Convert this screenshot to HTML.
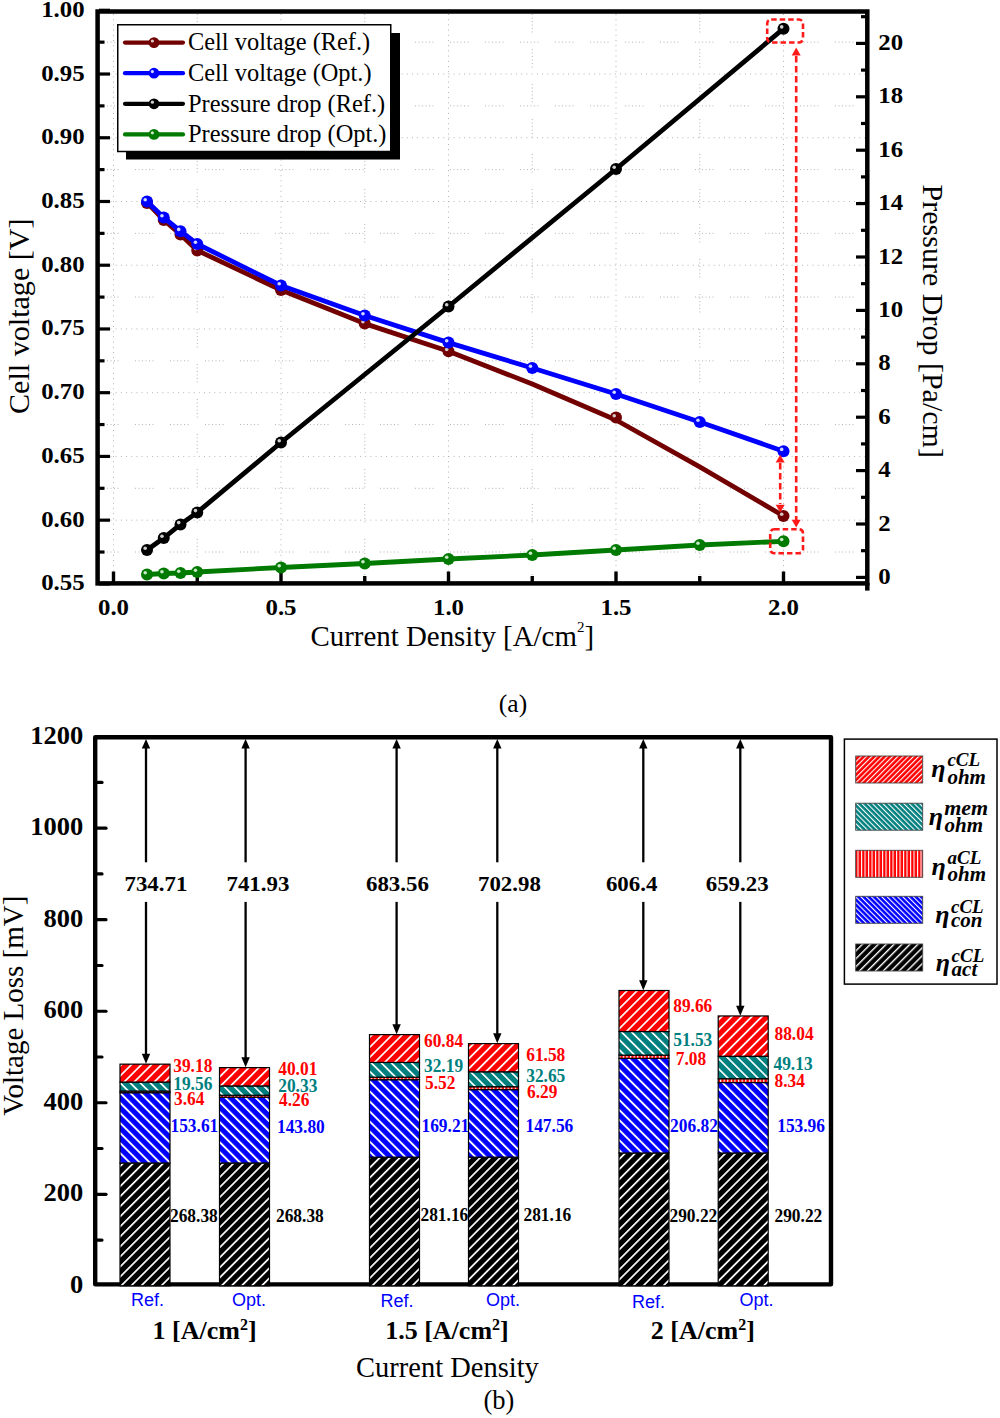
<!DOCTYPE html><html><head><meta charset="utf-8"><style>html,body{margin:0;padding:0;background:#fff;}svg{display:block}</style></head><body>
<svg width="1000" height="1418" viewBox="0 0 1000 1418">
<defs>
<pattern id="hC" patternUnits="userSpaceOnUse" width="7.1" height="7.1" patternTransform="rotate(45)"><rect width="7.1" height="7.1" fill="#ff0000"/><rect x="0" y="0" width="1.7" height="7.1" fill="#fff"/></pattern>
<pattern id="hM" patternUnits="userSpaceOnUse" width="7.1" height="7.1" patternTransform="rotate(-45)"><rect width="7.1" height="7.1" fill="#007f7f"/><rect x="0" y="0" width="1.7" height="7.1" fill="#fff"/></pattern>
<pattern id="hB" patternUnits="userSpaceOnUse" width="7.1" height="7.1" patternTransform="rotate(-45)"><rect width="7.1" height="7.1" fill="#0000ff"/><rect x="0" y="0" width="1.9" height="7.1" fill="#fff"/></pattern>
<pattern id="hK" patternUnits="userSpaceOnUse" width="7.1" height="7.1" patternTransform="rotate(45)"><rect width="7.1" height="7.1" fill="#000000"/><rect x="0" y="0" width="1.7" height="7.1" fill="#fff"/></pattern>
<pattern id="hA" patternUnits="userSpaceOnUse" width="3.6" height="10"><rect width="3.6" height="10" fill="#ff0000"/><rect x="0" width="1.2" height="10" fill="#fff"/></pattern>
<pattern id="lC" patternUnits="userSpaceOnUse" width="3.7" height="3.7" patternTransform="rotate(45)"><rect width="3.7" height="3.7" fill="#ff0000"/><rect x="0" y="0" width="1.1" height="3.7" fill="#fff"/></pattern>
<pattern id="lM" patternUnits="userSpaceOnUse" width="3.7" height="3.7" patternTransform="rotate(-45)"><rect width="3.7" height="3.7" fill="#007f7f"/><rect x="0" y="0" width="1.1" height="3.7" fill="#fff"/></pattern>
<pattern id="lB" patternUnits="userSpaceOnUse" width="3.7" height="3.7" patternTransform="rotate(-45)"><rect width="3.7" height="3.7" fill="#0000ff"/><rect x="0" y="0" width="1.1" height="3.7" fill="#fff"/></pattern>
<pattern id="lK" patternUnits="userSpaceOnUse" width="5.6" height="5.6" patternTransform="rotate(45)"><rect width="5.6" height="5.6" fill="#000000"/><rect x="0" y="0" width="1.4" height="5.6" fill="#fff"/></pattern>
<pattern id="lA" patternUnits="userSpaceOnUse" width="3.5" height="10"><rect width="3.5" height="10" fill="#ff0000"/><rect x="0" width="1.1" height="10" fill="#fff"/></pattern>
</defs>
<line x1="113.50" y1="14" x2="113.50" y2="580" stroke="#b4b4b4" stroke-width="1" stroke-dasharray="1 4.2"/><line x1="197.25" y1="14" x2="197.25" y2="580" stroke="#b4b4b4" stroke-width="1" stroke-dasharray="1 2.5 1 2.5 1 2.5 1 2.5 1 2.5 1 16.5"/><line x1="281.00" y1="14" x2="281.00" y2="580" stroke="#b4b4b4" stroke-width="1" stroke-dasharray="1 4.2"/><line x1="364.75" y1="14" x2="364.75" y2="580" stroke="#b4b4b4" stroke-width="1" stroke-dasharray="1 2.5 1 2.5 1 2.5 1 2.5 1 2.5 1 16.5"/><line x1="448.50" y1="14" x2="448.50" y2="580" stroke="#b4b4b4" stroke-width="1" stroke-dasharray="1 4.2"/><line x1="532.25" y1="14" x2="532.25" y2="580" stroke="#b4b4b4" stroke-width="1" stroke-dasharray="1 2.5 1 2.5 1 2.5 1 2.5 1 2.5 1 16.5"/><line x1="616.00" y1="14" x2="616.00" y2="580" stroke="#b4b4b4" stroke-width="1" stroke-dasharray="1 4.2"/><line x1="699.75" y1="14" x2="699.75" y2="580" stroke="#b4b4b4" stroke-width="1" stroke-dasharray="1 2.5 1 2.5 1 2.5 1 2.5 1 2.5 1 16.5"/><line x1="783.50" y1="14" x2="783.50" y2="580" stroke="#b4b4b4" stroke-width="1" stroke-dasharray="1 4.2"/><line x1="100" y1="552.03" x2="865" y2="552.03" stroke="#b4b4b4" stroke-width="1" stroke-dasharray="1 2.5 1 2.5 1 2.5 1 2.5 1 2.5 1 16.5"/><line x1="100" y1="520.16" x2="865" y2="520.16" stroke="#b4b4b4" stroke-width="1" stroke-dasharray="1 4.2"/><line x1="100" y1="488.30" x2="865" y2="488.30" stroke="#b4b4b4" stroke-width="1" stroke-dasharray="1 2.5 1 2.5 1 2.5 1 2.5 1 2.5 1 16.5"/><line x1="100" y1="456.43" x2="865" y2="456.43" stroke="#b4b4b4" stroke-width="1" stroke-dasharray="1 4.2"/><line x1="100" y1="424.56" x2="865" y2="424.56" stroke="#b4b4b4" stroke-width="1" stroke-dasharray="1 2.5 1 2.5 1 2.5 1 2.5 1 2.5 1 16.5"/><line x1="100" y1="392.69" x2="865" y2="392.69" stroke="#b4b4b4" stroke-width="1" stroke-dasharray="1 4.2"/><line x1="100" y1="360.83" x2="865" y2="360.83" stroke="#b4b4b4" stroke-width="1" stroke-dasharray="1 2.5 1 2.5 1 2.5 1 2.5 1 2.5 1 16.5"/><line x1="100" y1="328.96" x2="865" y2="328.96" stroke="#b4b4b4" stroke-width="1" stroke-dasharray="1 4.2"/><line x1="100" y1="297.09" x2="865" y2="297.09" stroke="#b4b4b4" stroke-width="1" stroke-dasharray="1 2.5 1 2.5 1 2.5 1 2.5 1 2.5 1 16.5"/><line x1="100" y1="265.22" x2="865" y2="265.22" stroke="#b4b4b4" stroke-width="1" stroke-dasharray="1 4.2"/><line x1="100" y1="233.36" x2="865" y2="233.36" stroke="#b4b4b4" stroke-width="1" stroke-dasharray="1 2.5 1 2.5 1 2.5 1 2.5 1 2.5 1 16.5"/><line x1="100" y1="201.49" x2="865" y2="201.49" stroke="#b4b4b4" stroke-width="1" stroke-dasharray="1 4.2"/><line x1="100" y1="169.62" x2="865" y2="169.62" stroke="#b4b4b4" stroke-width="1" stroke-dasharray="1 2.5 1 2.5 1 2.5 1 2.5 1 2.5 1 16.5"/><line x1="100" y1="137.75" x2="865" y2="137.75" stroke="#b4b4b4" stroke-width="1" stroke-dasharray="1 4.2"/><line x1="100" y1="105.89" x2="865" y2="105.89" stroke="#b4b4b4" stroke-width="1" stroke-dasharray="1 2.5 1 2.5 1 2.5 1 2.5 1 2.5 1 16.5"/><line x1="100" y1="74.02" x2="865" y2="74.02" stroke="#b4b4b4" stroke-width="1" stroke-dasharray="1 4.2"/><line x1="100" y1="42.15" x2="865" y2="42.15" stroke="#b4b4b4" stroke-width="1" stroke-dasharray="1 2.5 1 2.5 1 2.5 1 2.5 1 2.5 1 16.5"/>
<rect x="97.6" y="11.5" width="769.7" height="571.9" fill="none" stroke="#000" stroke-width="4.5"/>
<line x1="867.3" y1="583" x2="867.3" y2="590.6" stroke="#000" stroke-width="4.5"/>
<line x1="99" y1="583.90" x2="110" y2="583.90" stroke="#000" stroke-width="3.2"/><line x1="99" y1="552.03" x2="104.5" y2="552.03" stroke="#000" stroke-width="3.2"/><line x1="99" y1="520.16" x2="110" y2="520.16" stroke="#000" stroke-width="3.2"/><line x1="99" y1="488.30" x2="104.5" y2="488.30" stroke="#000" stroke-width="3.2"/><line x1="99" y1="456.43" x2="110" y2="456.43" stroke="#000" stroke-width="3.2"/><line x1="99" y1="424.56" x2="104.5" y2="424.56" stroke="#000" stroke-width="3.2"/><line x1="99" y1="392.69" x2="110" y2="392.69" stroke="#000" stroke-width="3.2"/><line x1="99" y1="360.83" x2="104.5" y2="360.83" stroke="#000" stroke-width="3.2"/><line x1="99" y1="328.96" x2="110" y2="328.96" stroke="#000" stroke-width="3.2"/><line x1="99" y1="297.09" x2="104.5" y2="297.09" stroke="#000" stroke-width="3.2"/><line x1="99" y1="265.22" x2="110" y2="265.22" stroke="#000" stroke-width="3.2"/><line x1="99" y1="233.36" x2="104.5" y2="233.36" stroke="#000" stroke-width="3.2"/><line x1="99" y1="201.49" x2="110" y2="201.49" stroke="#000" stroke-width="3.2"/><line x1="99" y1="169.62" x2="104.5" y2="169.62" stroke="#000" stroke-width="3.2"/><line x1="99" y1="137.75" x2="110" y2="137.75" stroke="#000" stroke-width="3.2"/><line x1="99" y1="105.89" x2="104.5" y2="105.89" stroke="#000" stroke-width="3.2"/><line x1="99" y1="74.02" x2="110" y2="74.02" stroke="#000" stroke-width="3.2"/><line x1="99" y1="42.15" x2="104.5" y2="42.15" stroke="#000" stroke-width="3.2"/><line x1="99" y1="10.28" x2="110" y2="10.28" stroke="#000" stroke-width="3.2"/><line x1="113.50" y1="582" x2="113.50" y2="571.5" stroke="#000" stroke-width="3.4"/><line x1="197.25" y1="582" x2="197.25" y2="576" stroke="#000" stroke-width="3.4"/><line x1="281.00" y1="582" x2="281.00" y2="571.5" stroke="#000" stroke-width="3.4"/><line x1="364.75" y1="582" x2="364.75" y2="576" stroke="#000" stroke-width="3.4"/><line x1="448.50" y1="582" x2="448.50" y2="571.5" stroke="#000" stroke-width="3.4"/><line x1="532.25" y1="582" x2="532.25" y2="576" stroke="#000" stroke-width="3.4"/><line x1="616.00" y1="582" x2="616.00" y2="571.5" stroke="#000" stroke-width="3.4"/><line x1="699.75" y1="582" x2="699.75" y2="576" stroke="#000" stroke-width="3.4"/><line x1="783.50" y1="582" x2="783.50" y2="571.5" stroke="#000" stroke-width="3.4"/><line x1="866" y1="577.40" x2="856" y2="577.40" stroke="#000" stroke-width="3.2"/><line x1="866" y1="550.70" x2="861" y2="550.70" stroke="#000" stroke-width="3.2"/><line x1="866" y1="524.00" x2="856" y2="524.00" stroke="#000" stroke-width="3.2"/><line x1="866" y1="497.30" x2="861" y2="497.30" stroke="#000" stroke-width="3.2"/><line x1="866" y1="470.60" x2="856" y2="470.60" stroke="#000" stroke-width="3.2"/><line x1="866" y1="443.90" x2="861" y2="443.90" stroke="#000" stroke-width="3.2"/><line x1="866" y1="417.20" x2="856" y2="417.20" stroke="#000" stroke-width="3.2"/><line x1="866" y1="390.50" x2="861" y2="390.50" stroke="#000" stroke-width="3.2"/><line x1="866" y1="363.80" x2="856" y2="363.80" stroke="#000" stroke-width="3.2"/><line x1="866" y1="337.10" x2="861" y2="337.10" stroke="#000" stroke-width="3.2"/><line x1="866" y1="310.40" x2="856" y2="310.40" stroke="#000" stroke-width="3.2"/><line x1="866" y1="283.70" x2="861" y2="283.70" stroke="#000" stroke-width="3.2"/><line x1="866" y1="257.00" x2="856" y2="257.00" stroke="#000" stroke-width="3.2"/><line x1="866" y1="230.30" x2="861" y2="230.30" stroke="#000" stroke-width="3.2"/><line x1="866" y1="203.60" x2="856" y2="203.60" stroke="#000" stroke-width="3.2"/><line x1="866" y1="176.90" x2="861" y2="176.90" stroke="#000" stroke-width="3.2"/><line x1="866" y1="150.20" x2="856" y2="150.20" stroke="#000" stroke-width="3.2"/><line x1="866" y1="123.50" x2="861" y2="123.50" stroke="#000" stroke-width="3.2"/><line x1="866" y1="96.80" x2="856" y2="96.80" stroke="#000" stroke-width="3.2"/><line x1="866" y1="70.10" x2="861" y2="70.10" stroke="#000" stroke-width="3.2"/><line x1="866" y1="43.40" x2="856" y2="43.40" stroke="#000" stroke-width="3.2"/><line x1="866" y1="16.70" x2="861" y2="16.70" stroke="#000" stroke-width="3.2"/>
<g font-family='"Liberation Serif", serif' font-weight="bold" font-size="23" fill="#000"><text transform="translate(84.6,590.40) scale(1.08,1)" text-anchor="end">0.55</text><text transform="translate(84.6,526.66) scale(1.08,1)" text-anchor="end">0.60</text><text transform="translate(84.6,462.93) scale(1.08,1)" text-anchor="end">0.65</text><text transform="translate(84.6,399.19) scale(1.08,1)" text-anchor="end">0.70</text><text transform="translate(84.6,335.46) scale(1.08,1)" text-anchor="end">0.75</text><text transform="translate(84.6,271.72) scale(1.08,1)" text-anchor="end">0.80</text><text transform="translate(84.6,207.99) scale(1.08,1)" text-anchor="end">0.85</text><text transform="translate(84.6,144.25) scale(1.08,1)" text-anchor="end">0.90</text><text transform="translate(84.6,80.52) scale(1.08,1)" text-anchor="end">0.95</text><text transform="translate(84.6,16.78) scale(1.08,1)" text-anchor="end">1.00</text><text transform="translate(113.50,614.6) scale(1.08,1)" text-anchor="middle">0.0</text><text transform="translate(281.00,614.6) scale(1.08,1)" text-anchor="middle">0.5</text><text transform="translate(448.50,614.6) scale(1.08,1)" text-anchor="middle">1.0</text><text transform="translate(616.00,614.6) scale(1.08,1)" text-anchor="middle">1.5</text><text transform="translate(783.50,614.6) scale(1.08,1)" text-anchor="middle">2.0</text><text transform="translate(878.3,583.90) scale(1.08,1)">0</text><text transform="translate(878.3,530.50) scale(1.08,1)">2</text><text transform="translate(878.3,477.10) scale(1.08,1)">4</text><text transform="translate(878.3,423.70) scale(1.08,1)">6</text><text transform="translate(878.3,370.30) scale(1.08,1)">8</text><text transform="translate(878.3,316.90) scale(1.08,1)">10</text><text transform="translate(878.3,263.50) scale(1.08,1)">12</text><text transform="translate(878.3,210.10) scale(1.08,1)">14</text><text transform="translate(878.3,156.70) scale(1.08,1)">16</text><text transform="translate(878.3,103.30) scale(1.08,1)">18</text><text transform="translate(878.3,49.90) scale(1.08,1)">20</text></g>
<text transform="translate(29,316.2) rotate(-90)" text-anchor="middle" font-family='"Liberation Serif", serif' font-size="30.1" fill="#000">Cell voltage [V]</text>
<text transform="translate(923.4,321.25) rotate(90)" text-anchor="middle" font-family='"Liberation Serif", serif' font-size="30" fill="#000">Pressure Drop [Pa/cm]</text>
<text x="310.5" y="646" font-family='"Liberation Serif", serif' font-size="28.9" fill="#000">Current Density [A/cm<tspan font-size="15" dy="-14">2</tspan><tspan dy="14">]</tspan></text>
<text x="513" y="712" text-anchor="middle" font-family='"Liberation Serif", serif' font-size="25.5" fill="#000">(a)</text>
<polyline points="147.00,202.50 163.75,220.00 180.50,234.40 197.25,250.40 281.00,290.00 364.75,323.60 448.50,351.30 532.25,384.00 616.00,420.00 699.75,466.80 783.50,516.00" fill="none" stroke="#720000" stroke-width="4.8" stroke-linejoin="round" stroke-linecap="round"/><circle cx="147.00" cy="203.00" r="6" fill="#720000"/><circle cx="145.20" cy="201.20" r="1.8" fill="#d9c8c8"/><circle cx="163.75" cy="220.00" r="6" fill="#720000"/><circle cx="161.95" cy="218.20" r="1.8" fill="#d9c8c8"/><circle cx="180.50" cy="234.40" r="6" fill="#720000"/><circle cx="178.70" cy="232.60" r="1.8" fill="#d9c8c8"/><circle cx="197.25" cy="250.40" r="6" fill="#720000"/><circle cx="195.45" cy="248.60" r="1.8" fill="#d9c8c8"/><circle cx="281.00" cy="290.00" r="6" fill="#720000"/><circle cx="279.20" cy="288.20" r="1.8" fill="#d9c8c8"/><circle cx="364.75" cy="323.60" r="6" fill="#720000"/><circle cx="362.95" cy="321.80" r="1.8" fill="#d9c8c8"/><circle cx="448.50" cy="351.30" r="6" fill="#720000"/><circle cx="446.70" cy="349.50" r="1.8" fill="#d9c8c8"/><circle cx="616.00" cy="417.50" r="6" fill="#720000"/><circle cx="614.20" cy="415.70" r="1.8" fill="#d9c8c8"/><circle cx="783.50" cy="516.00" r="6" fill="#720000"/><circle cx="781.70" cy="514.20" r="1.8" fill="#d9c8c8"/>
<polyline points="147.00,201.60 163.75,217.60 180.50,231.20 197.25,244.00 281.00,285.50 364.75,315.50 448.50,342.60 532.25,368.00 616.00,394.00 699.75,422.00 783.50,451.20" fill="none" stroke="#0000ff" stroke-width="4.8" stroke-linejoin="round" stroke-linecap="round"/><circle cx="147.00" cy="201.60" r="6" fill="#0000ff"/><circle cx="145.20" cy="199.80" r="1.8" fill="#d0d8ff"/><circle cx="163.75" cy="217.60" r="6" fill="#0000ff"/><circle cx="161.95" cy="215.80" r="1.8" fill="#d0d8ff"/><circle cx="180.50" cy="231.20" r="6" fill="#0000ff"/><circle cx="178.70" cy="229.40" r="1.8" fill="#d0d8ff"/><circle cx="197.25" cy="244.00" r="6" fill="#0000ff"/><circle cx="195.45" cy="242.20" r="1.8" fill="#d0d8ff"/><circle cx="281.00" cy="285.50" r="6" fill="#0000ff"/><circle cx="279.20" cy="283.70" r="1.8" fill="#d0d8ff"/><circle cx="364.75" cy="315.50" r="6" fill="#0000ff"/><circle cx="362.95" cy="313.70" r="1.8" fill="#d0d8ff"/><circle cx="448.50" cy="342.60" r="6" fill="#0000ff"/><circle cx="446.70" cy="340.80" r="1.8" fill="#d0d8ff"/><circle cx="532.25" cy="368.00" r="6" fill="#0000ff"/><circle cx="530.45" cy="366.20" r="1.8" fill="#d0d8ff"/><circle cx="616.00" cy="394.00" r="6" fill="#0000ff"/><circle cx="614.20" cy="392.20" r="1.8" fill="#d0d8ff"/><circle cx="699.75" cy="422.00" r="6" fill="#0000ff"/><circle cx="697.95" cy="420.20" r="1.8" fill="#d0d8ff"/><circle cx="783.50" cy="451.20" r="6" fill="#0000ff"/><circle cx="781.70" cy="449.40" r="1.8" fill="#d0d8ff"/>
<polyline points="147.00,550.00 163.75,538.00 180.50,524.40 197.25,512.40 281.00,442.50 448.50,306.50 616.00,169.00 783.50,28.70" fill="none" stroke="#000000" stroke-width="4.8" stroke-linejoin="round" stroke-linecap="round"/><circle cx="147.00" cy="550.00" r="6" fill="#000000"/><circle cx="145.20" cy="548.20" r="1.8" fill="#d0d0d0"/><circle cx="163.75" cy="538.00" r="6" fill="#000000"/><circle cx="161.95" cy="536.20" r="1.8" fill="#d0d0d0"/><circle cx="180.50" cy="524.40" r="6" fill="#000000"/><circle cx="178.70" cy="522.60" r="1.8" fill="#d0d0d0"/><circle cx="197.25" cy="512.40" r="6" fill="#000000"/><circle cx="195.45" cy="510.60" r="1.8" fill="#d0d0d0"/><circle cx="281.00" cy="442.50" r="6" fill="#000000"/><circle cx="279.20" cy="440.70" r="1.8" fill="#d0d0d0"/><circle cx="448.50" cy="306.50" r="6" fill="#000000"/><circle cx="446.70" cy="304.70" r="1.8" fill="#d0d0d0"/><circle cx="616.00" cy="169.00" r="6" fill="#000000"/><circle cx="614.20" cy="167.20" r="1.8" fill="#d0d0d0"/><circle cx="783.50" cy="28.70" r="6" fill="#000000"/><circle cx="781.70" cy="26.90" r="1.8" fill="#d0d0d0"/>
<polyline points="147.00,574.50 163.75,573.50 180.50,573.00 197.25,572.00 281.00,567.50 364.75,563.50 448.50,559.00 532.25,555.00 616.00,550.00 699.75,545.00 783.50,541.30" fill="none" stroke="#007a00" stroke-width="4.8" stroke-linejoin="round" stroke-linecap="round"/><circle cx="147.00" cy="574.50" r="6" fill="#007a00"/><circle cx="145.20" cy="572.70" r="1.8" fill="#c8e8c8"/><circle cx="163.75" cy="573.50" r="6" fill="#007a00"/><circle cx="161.95" cy="571.70" r="1.8" fill="#c8e8c8"/><circle cx="180.50" cy="573.00" r="6" fill="#007a00"/><circle cx="178.70" cy="571.20" r="1.8" fill="#c8e8c8"/><circle cx="197.25" cy="572.00" r="6" fill="#007a00"/><circle cx="195.45" cy="570.20" r="1.8" fill="#c8e8c8"/><circle cx="281.00" cy="567.50" r="6" fill="#007a00"/><circle cx="279.20" cy="565.70" r="1.8" fill="#c8e8c8"/><circle cx="364.75" cy="563.50" r="6" fill="#007a00"/><circle cx="362.95" cy="561.70" r="1.8" fill="#c8e8c8"/><circle cx="448.50" cy="559.00" r="6" fill="#007a00"/><circle cx="446.70" cy="557.20" r="1.8" fill="#c8e8c8"/><circle cx="532.25" cy="555.00" r="6" fill="#007a00"/><circle cx="530.45" cy="553.20" r="1.8" fill="#c8e8c8"/><circle cx="616.00" cy="550.00" r="6" fill="#007a00"/><circle cx="614.20" cy="548.20" r="1.8" fill="#c8e8c8"/><circle cx="699.75" cy="545.00" r="6" fill="#007a00"/><circle cx="697.95" cy="543.20" r="1.8" fill="#c8e8c8"/><circle cx="783.50" cy="541.30" r="6" fill="#007a00"/><circle cx="781.70" cy="539.50" r="1.8" fill="#c8e8c8"/>
<rect x="126" y="33" width="274" height="126.5" fill="#000"/>
<rect x="117.75" y="24.75" width="273" height="126.75" fill="#fff" stroke="#000" stroke-width="1.5"/>
<line x1="125" y1="42.6" x2="183" y2="42.6" stroke="#720000" stroke-width="4.2" stroke-linecap="round"/>
<circle cx="154" cy="42.6" r="5.4" fill="#720000"/><circle cx="152.4" cy="41.0" r="1.6" fill="#d9c8c8"/>
<text x="188" y="50.4" font-family='"Liberation Serif", serif' font-size="24.4" fill="#000">Cell voltage (Ref.)</text>
<line x1="125" y1="73.2" x2="183" y2="73.2" stroke="#0000ff" stroke-width="4.2" stroke-linecap="round"/>
<circle cx="154" cy="73.2" r="5.4" fill="#0000ff"/><circle cx="152.4" cy="71.60000000000001" r="1.6" fill="#d0d8ff"/>
<text x="188" y="81.0" font-family='"Liberation Serif", serif' font-size="24.4" fill="#000">Cell voltage (Opt.)</text>
<line x1="125" y1="103.8" x2="183" y2="103.8" stroke="#000" stroke-width="4.2" stroke-linecap="round"/>
<circle cx="154" cy="103.8" r="5.4" fill="#000"/><circle cx="152.4" cy="102.2" r="1.6" fill="#d0d0d0"/>
<text x="188" y="111.6" font-family='"Liberation Serif", serif' font-size="24.4" fill="#000">Pressure drop (Ref.)</text>
<line x1="125" y1="134.4" x2="183" y2="134.4" stroke="#007a00" stroke-width="4.2" stroke-linecap="round"/>
<circle cx="154" cy="134.4" r="5.4" fill="#007a00"/><circle cx="152.4" cy="132.8" r="1.6" fill="#c8e8c8"/>
<text x="188" y="142.20000000000002" font-family='"Liberation Serif", serif' font-size="24.4" fill="#000">Pressure drop (Opt.)</text>
<rect x="767.2" y="19.5" width="35.8" height="23" rx="4" fill="none" stroke="#ff1a1a" stroke-width="2.6" stroke-dasharray="5.5 3"/>
<rect x="770.2" y="529.3" width="32.8" height="23.9" rx="4" fill="none" stroke="#ff1a1a" stroke-width="2.6" stroke-dasharray="5.5 3"/>
<line x1="796.2" y1="56" x2="796.2" y2="520" stroke="#ff1a1a" stroke-width="2.6" stroke-dasharray="6.5 3.5"/>
<polygon points="796.2,47.6 791.7,55.5 800.7,55.5" fill="#ff1a1a"/>
<polygon points="796.2,527.4 791.7,519.8 800.7,519.8" fill="#ff1a1a"/>
<line x1="780.2" y1="463" x2="780.2" y2="504" stroke="#ff1a1a" stroke-width="2.6" stroke-dasharray="6.5 3.5"/>
<polygon points="780.2,454.8 775.7,462.6 784.7,462.6" fill="#ff1a1a"/>
<polygon points="780.2,512.6 775.7,504.8 784.7,504.8" fill="#ff1a1a"/>
<rect x="95.2" y="737.25" width="735.8" height="547.1" fill="none" stroke="#000" stroke-width="4.4" stroke-linejoin="round"/>
<line x1="96" y1="1240.04" x2="102" y2="1240.04" stroke="#000" stroke-width="3.2" stroke-linecap="round"/><line x1="96" y1="1194.28" x2="106" y2="1194.28" stroke="#000" stroke-width="3.2" stroke-linecap="round"/><line x1="96" y1="1148.52" x2="102" y2="1148.52" stroke="#000" stroke-width="3.2" stroke-linecap="round"/><line x1="96" y1="1102.76" x2="106" y2="1102.76" stroke="#000" stroke-width="3.2" stroke-linecap="round"/><line x1="96" y1="1057.00" x2="102" y2="1057.00" stroke="#000" stroke-width="3.2" stroke-linecap="round"/><line x1="96" y1="1011.24" x2="106" y2="1011.24" stroke="#000" stroke-width="3.2" stroke-linecap="round"/><line x1="96" y1="965.48" x2="102" y2="965.48" stroke="#000" stroke-width="3.2" stroke-linecap="round"/><line x1="96" y1="919.72" x2="106" y2="919.72" stroke="#000" stroke-width="3.2" stroke-linecap="round"/><line x1="96" y1="873.96" x2="102" y2="873.96" stroke="#000" stroke-width="3.2" stroke-linecap="round"/><line x1="96" y1="828.20" x2="106" y2="828.20" stroke="#000" stroke-width="3.2" stroke-linecap="round"/><line x1="96" y1="782.44" x2="102" y2="782.44" stroke="#000" stroke-width="3.2" stroke-linecap="round"/>
<g font-family='"Liberation Serif", serif' font-weight="bold" font-size="25" fill="#000"><text transform="translate(83.3,1292.90) scale(1.06,1)" text-anchor="end">0</text><text transform="translate(83.3,1201.38) scale(1.06,1)" text-anchor="end">200</text><text transform="translate(83.3,1109.86) scale(1.06,1)" text-anchor="end">400</text><text transform="translate(83.3,1018.34) scale(1.06,1)" text-anchor="end">600</text><text transform="translate(83.3,926.82) scale(1.06,1)" text-anchor="end">800</text><text transform="translate(83.3,835.30) scale(1.06,1)" text-anchor="end">1000</text><text transform="translate(83.3,743.78) scale(1.06,1)" text-anchor="end">1200</text></g>
<text transform="translate(22.8,1005.7) rotate(-90)" text-anchor="middle" font-family='"Liberation Serif", serif' font-size="29" fill="#000">Voltage Loss [mV]</text>
<rect x="120.00" y="1162.99" width="50" height="122.81" fill="url(#hK)" stroke="#000" stroke-width="1.2"/>
<rect x="120.00" y="1092.70" width="50" height="70.29" fill="url(#hB)" stroke="#000" stroke-width="1.2"/>
<rect x="120.00" y="1091.03" width="50" height="1.67" fill="url(#hA)" stroke="#000" stroke-width="1.2"/>
<rect x="120.00" y="1082.08" width="50" height="8.95" fill="url(#hM)" stroke="#000" stroke-width="1.2"/>
<rect x="120.00" y="1064.15" width="50" height="17.93" fill="url(#hC)" stroke="#000" stroke-width="1.2"/>
<rect x="219.50" y="1162.99" width="50" height="122.81" fill="url(#hK)" stroke="#000" stroke-width="1.2"/>
<rect x="219.50" y="1097.19" width="50" height="65.80" fill="url(#hB)" stroke="#000" stroke-width="1.2"/>
<rect x="219.50" y="1095.24" width="50" height="1.95" fill="url(#hA)" stroke="#000" stroke-width="1.2"/>
<rect x="219.50" y="1085.93" width="50" height="9.30" fill="url(#hM)" stroke="#000" stroke-width="1.2"/>
<rect x="219.50" y="1067.63" width="50" height="18.31" fill="url(#hC)" stroke="#000" stroke-width="1.2"/>
<rect x="369.50" y="1157.14" width="50" height="128.66" fill="url(#hK)" stroke="#000" stroke-width="1.2"/>
<rect x="369.50" y="1079.71" width="50" height="77.43" fill="url(#hB)" stroke="#000" stroke-width="1.2"/>
<rect x="369.50" y="1077.18" width="50" height="2.53" fill="url(#hA)" stroke="#000" stroke-width="1.2"/>
<rect x="369.50" y="1062.45" width="50" height="14.73" fill="url(#hM)" stroke="#000" stroke-width="1.2"/>
<rect x="369.50" y="1034.61" width="50" height="27.84" fill="url(#hC)" stroke="#000" stroke-width="1.2"/>
<rect x="468.50" y="1157.14" width="50" height="128.66" fill="url(#hK)" stroke="#000" stroke-width="1.2"/>
<rect x="468.50" y="1089.62" width="50" height="67.52" fill="url(#hB)" stroke="#000" stroke-width="1.2"/>
<rect x="468.50" y="1086.74" width="50" height="2.88" fill="url(#hA)" stroke="#000" stroke-width="1.2"/>
<rect x="468.50" y="1071.80" width="50" height="14.94" fill="url(#hM)" stroke="#000" stroke-width="1.2"/>
<rect x="468.50" y="1043.62" width="50" height="28.18" fill="url(#hC)" stroke="#000" stroke-width="1.2"/>
<rect x="619.00" y="1153.00" width="50" height="132.80" fill="url(#hK)" stroke="#000" stroke-width="1.2"/>
<rect x="619.00" y="1058.35" width="50" height="94.64" fill="url(#hB)" stroke="#000" stroke-width="1.2"/>
<rect x="619.00" y="1055.11" width="50" height="3.24" fill="url(#hA)" stroke="#000" stroke-width="1.2"/>
<rect x="619.00" y="1031.53" width="50" height="23.58" fill="url(#hM)" stroke="#000" stroke-width="1.2"/>
<rect x="619.00" y="990.51" width="50" height="41.03" fill="url(#hC)" stroke="#000" stroke-width="1.2"/>
<rect x="718.20" y="1153.00" width="50" height="132.80" fill="url(#hK)" stroke="#000" stroke-width="1.2"/>
<rect x="718.20" y="1082.54" width="50" height="70.45" fill="url(#hB)" stroke="#000" stroke-width="1.2"/>
<rect x="718.20" y="1078.73" width="50" height="3.82" fill="url(#hA)" stroke="#000" stroke-width="1.2"/>
<rect x="718.20" y="1056.24" width="50" height="22.48" fill="url(#hM)" stroke="#000" stroke-width="1.2"/>
<rect x="718.20" y="1015.96" width="50" height="40.29" fill="url(#hC)" stroke="#000" stroke-width="1.2"/>
<line x1="146.0" y1="746" x2="146.0" y2="862.3" stroke="#000" stroke-width="2.3"/>
<line x1="146.0" y1="901.9" x2="146.0" y2="1056.15" stroke="#000" stroke-width="2.3"/>
<polygon points="146.0,739 141.8,748.5 150.2,748.5" fill="#000"/>
<polygon points="146.0,1063.85 141.8,1053.85 150.2,1053.85" fill="#000"/>
<line x1="245.6" y1="746" x2="245.6" y2="862.3" stroke="#000" stroke-width="2.3"/>
<line x1="245.6" y1="901.9" x2="245.6" y2="1059.63" stroke="#000" stroke-width="2.3"/>
<polygon points="245.6,739 241.4,748.5 249.79999999999998,748.5" fill="#000"/>
<polygon points="245.6,1067.33 241.4,1057.33 249.79999999999998,1057.33" fill="#000"/>
<line x1="396.6" y1="746" x2="396.6" y2="862.3" stroke="#000" stroke-width="2.3"/>
<line x1="396.6" y1="901.9" x2="396.6" y2="1026.61" stroke="#000" stroke-width="2.3"/>
<polygon points="396.6,739 392.40000000000003,748.5 400.8,748.5" fill="#000"/>
<polygon points="396.6,1034.31 392.40000000000003,1024.31 400.8,1024.31" fill="#000"/>
<line x1="497.3" y1="746" x2="497.3" y2="862.3" stroke="#000" stroke-width="2.3"/>
<line x1="497.3" y1="901.9" x2="497.3" y2="1035.62" stroke="#000" stroke-width="2.3"/>
<polygon points="497.3,739 493.1,748.5 501.5,748.5" fill="#000"/>
<polygon points="497.3,1043.32 493.1,1033.32 501.5,1033.32" fill="#000"/>
<line x1="643.3" y1="746" x2="643.3" y2="862.3" stroke="#000" stroke-width="2.3"/>
<line x1="643.3" y1="901.9" x2="643.3" y2="982.51" stroke="#000" stroke-width="2.3"/>
<polygon points="643.3,739 639.0999999999999,748.5 647.5,748.5" fill="#000"/>
<polygon points="643.3,990.21 639.0999999999999,980.21 647.5,980.21" fill="#000"/>
<line x1="740.3" y1="746" x2="740.3" y2="862.3" stroke="#000" stroke-width="2.3"/>
<line x1="740.3" y1="901.9" x2="740.3" y2="1007.96" stroke="#000" stroke-width="2.3"/>
<polygon points="740.3,739 736.0999999999999,748.5 744.5,748.5" fill="#000"/>
<polygon points="740.3,1015.66 736.0999999999999,1005.66 744.5,1005.66" fill="#000"/>
<g font-family='"Liberation Serif", serif' font-weight="bold" font-size="22" fill="#000"><text transform="translate(124.5,890.8) scale(1.04,1)">734.71</text><text transform="translate(226.5,890.8) scale(1.04,1)">741.93</text><text transform="translate(366,890.8) scale(1.04,1)">683.56</text><text transform="translate(478,890.8) scale(1.04,1)">702.98</text><text transform="translate(605.9,890.8) scale(1.04,1)">606.4</text><text transform="translate(705.7,890.8) scale(1.04,1)">659.23</text></g>
<g font-family='"Liberation Serif", serif' font-weight="bold" font-size="18.5"><text transform="translate(173.25,1071.60) scale(0.94,1)" fill="#ff0000">39.18</text><text transform="translate(173.25,1090.10) scale(0.94,1)" fill="#007f7f">19.56</text><text transform="translate(174.0,1105.10) scale(0.94,1)" fill="#ff0000">3.64</text><text transform="translate(170.5,1131.60) scale(0.94,1)" fill="#0000ff">153.61</text><text transform="translate(170.0,1221.60) scale(0.94,1)" fill="#000">268.38</text><text transform="translate(278.25,1075.10) scale(0.94,1)" fill="#ff0000">40.01</text><text transform="translate(278.25,1091.60) scale(0.94,1)" fill="#007f7f">20.33</text><text transform="translate(279.0,1106.35) scale(0.94,1)" fill="#ff0000">4.26</text><text transform="translate(277.0,1132.60) scale(0.94,1)" fill="#0000ff">143.80</text><text transform="translate(276.0,1221.60) scale(0.94,1)" fill="#000">268.38</text><text transform="translate(424.0,1047.20) scale(0.94,1)" fill="#ff0000">60.84</text><text transform="translate(424.0,1071.90) scale(0.94,1)" fill="#007f7f">32.19</text><text transform="translate(425.0,1089.30) scale(0.94,1)" fill="#ff0000">5.52</text><text transform="translate(421.5,1131.60) scale(0.94,1)" fill="#0000ff">169.21</text><text transform="translate(420.5,1221.40) scale(0.94,1)" fill="#000">281.16</text><text transform="translate(526.2,1060.60) scale(0.94,1)" fill="#ff0000">61.58</text><text transform="translate(526.2,1081.60) scale(0.94,1)" fill="#007f7f">32.65</text><text transform="translate(527.0,1098.40) scale(0.94,1)" fill="#ff0000">6.29</text><text transform="translate(525.5,1131.60) scale(0.94,1)" fill="#0000ff">147.56</text><text transform="translate(523.5,1221.40) scale(0.94,1)" fill="#000">281.16</text><text transform="translate(673.2,1011.90) scale(0.94,1)" fill="#ff0000">89.66</text><text transform="translate(673.2,1045.60) scale(0.94,1)" fill="#007f7f">51.53</text><text transform="translate(675.8,1065.20) scale(0.94,1)" fill="#ff0000">7.08</text><text transform="translate(670.1,1131.60) scale(0.94,1)" fill="#0000ff">206.82</text><text transform="translate(669.5,1221.60) scale(0.94,1)" fill="#000">290.22</text><text transform="translate(774.5,1039.60) scale(0.94,1)" fill="#ff0000">88.04</text><text transform="translate(773.5,1069.60) scale(0.94,1)" fill="#007f7f">49.13</text><text transform="translate(774.5,1087.30) scale(0.94,1)" fill="#ff0000">8.34</text><text transform="translate(777.2,1131.60) scale(0.94,1)" fill="#0000ff">153.96</text><text transform="translate(774.5,1221.60) scale(0.94,1)" fill="#000">290.22</text></g>
<g font-family='"Liberation Sans", sans-serif' font-size="18" fill="#0000ff"><text x="131" y="1306">Ref.</text><text x="232" y="1306">Opt.</text><text x="380.5" y="1307">Ref.</text><text x="486" y="1306">Opt.</text><text x="632" y="1308">Ref.</text><text x="739.4" y="1305.6">Opt.</text></g>
<g font-family='"Liberation Serif", serif' font-weight="bold" font-size="26" fill="#000"><text x="152.6" y="1338.5">1 [A/cm<tspan font-size="16" dy="-9">2</tspan><tspan dy="9">]</tspan></text><text x="385.2" y="1338.5">1.5 [A/cm<tspan font-size="16" dy="-9">2</tspan><tspan dy="9">]</tspan></text><text x="650.8" y="1338.5">2 [A/cm<tspan font-size="16" dy="-9">2</tspan><tspan dy="9">]</tspan></text></g>
<text x="356" y="1377" font-family='"Liberation Serif", serif' font-size="28.5" fill="#000">Current Density</text>
<text x="499" y="1408.5" text-anchor="middle" font-family='"Liberation Serif", serif' font-size="26.5" fill="#000">(b)</text>
<rect x="844.4" y="739.1" width="152.6" height="245" fill="#fff" stroke="#000" stroke-width="1.5"/>
<rect x="855.7" y="756" width="67" height="27" fill="url(#lC)" stroke="#444" stroke-width="0.9"/>
<rect x="855.7" y="803.2" width="67" height="27" fill="url(#lM)" stroke="#444" stroke-width="0.9"/>
<rect x="855.7" y="850.3" width="67" height="27" fill="url(#lA)" stroke="#444" stroke-width="0.9"/>
<rect x="855.7" y="896.3" width="67" height="27" fill="url(#lB)" stroke="#444" stroke-width="0.9"/>
<rect x="855.7" y="944" width="67" height="27" fill="url(#lK)" stroke="#444" stroke-width="0.9"/>
<g font-family='"Liberation Serif", serif' font-weight="bold" font-style="italic" fill="#000"><text x="931.3" y="777" font-size="26">η</text><text x="947.4" y="766.3" font-size="19">cCL</text><text x="947.4" y="783.8" font-size="21">ohm</text><text x="928.8" y="825" font-size="26">η</text><text x="944.2" y="814.6" font-size="22">mem</text><text x="944.6" y="831.8" font-size="21">ohm</text><text x="931.6" y="874.5" font-size="26">η</text><text x="947.5" y="864" font-size="19">aCL</text><text x="947.5" y="881.4" font-size="21">ohm</text><text x="935.2" y="923" font-size="26">η</text><text x="951" y="913" font-size="19">cCL</text><text x="951" y="927.4" font-size="21">con</text><text x="935.7" y="971" font-size="26">η</text><text x="951.6" y="961.6" font-size="19">cCL</text><text x="951.6" y="976.4" font-size="21">act</text></g>
</svg></body></html>
